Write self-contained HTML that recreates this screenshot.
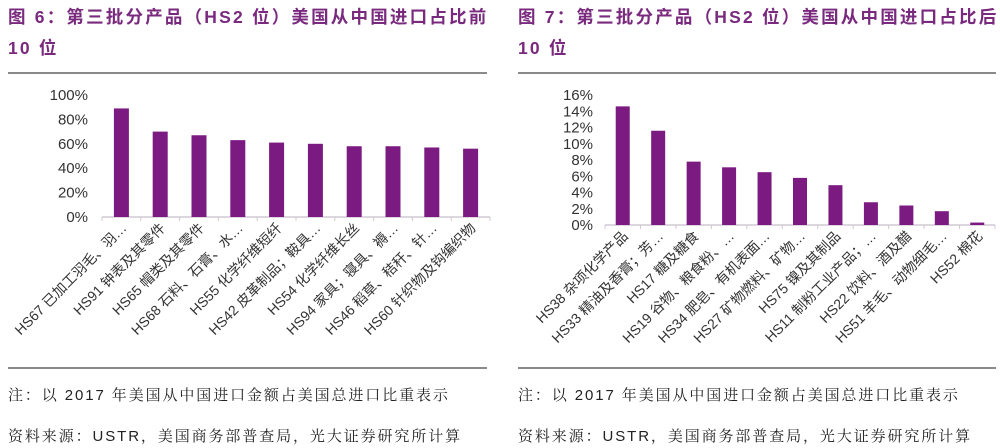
<!DOCTYPE html>
<html><head><meta charset="utf-8">
<style>
body{margin:0;width:1000px;height:448px;background:#fff;overflow:hidden;position:relative;font-family:"Liberation Sans","Noto Serif CJK SC",serif;}
.t{position:absolute;color:#7a2a7e;font-weight:bold;font-size:17.5px;letter-spacing:2.2px;line-height:31px;font-family:"Liberation Sans","Noto Sans CJK SC",sans-serif;}
.hr{position:absolute;height:2px;background:#8a8a8a;}
.n{position:absolute;font-size:15px;letter-spacing:1.9px;color:#222;white-space:nowrap;font-family:"Liberation Sans","Noto Serif CJK SC",serif;}
svg{position:absolute;left:0;top:0}
</style></head><body>
<div class="t" style="left:8px;top:2px;width:495px">图 6：第三批分产品（HS2 位）美国从中国进口占比前<br>10 位</div>
<div class="t" style="left:518px;top:2px;width:482px">图 7：第三批分产品（HS2 位）美国从中国进口占比后<br>10 位</div>
<div class="hr" style="left:8px;top:72px;width:479px"></div>
<div class="hr" style="left:518px;top:72px;width:478px"></div>
<div class="hr" style="left:8px;top:367px;width:479px"></div>
<div class="hr" style="left:518px;top:367px;width:478px"></div>
<div class="n" style="left:8px;top:384px">注：以 2017 年美国从中国进口金额占美国总进口比重表示</div>
<div class="n" style="left:8px;top:425px">资料来源：USTR，美国商务部普查局，光大证券研究所计算</div>
<div class="n" style="left:518px;top:384px">注：以 2017 年美国从中国进口金额占美国总进口比重表示</div>
<div class="n" style="left:518px;top:425px">资料来源：USTR，美国商务部普查局，光大证券研究所计算</div>
<svg id="s" width="1000" height="448"></svg>
<script>
const leftCats=["HS67 已加工羽毛、羽…","HS91 钟表及其零件","HS65 帽类及其零件","HS68 石料、石膏、水…","HS55 化学纤维短纤","HS42 皮革制品；鞍具…","HS54 化学纤维长丝","HS94 家具；寝具、褥…","HS46 稻草、秸秆、针…","HS60 针织物及钩编织物"];
const leftVals=[89,70,67,63,61,60,58,58,57,56];
const leftTicks=[0,20,40,60,80,100];
const rightCats=["HS38 杂项化学产品","HS33 精油及香膏；芳…","HS17 糖及糖食","HS19 谷物、粮食粉、…","HS34 肥皂、有机表面…","HS27 矿物燃料、矿物…","HS75 镍及其制品","HS11 制粉工业产品；…","HS22 饮料、酒及醋","HS51 羊毛、动物细毛…","HS52 棉花"];
const rightVals=[14.6,11.6,7.8,7.1,6.5,5.8,4.9,2.8,2.4,1.7,0.3];
const rightTicks=[0,2,4,6,8,10,12,14,16];
const NS="http://www.w3.org/2000/svg";
const svg=document.getElementById('s');
function mk(tag,attrs){const e=document.createElementNS(NS,tag);for(const k in attrs)e.setAttribute(k,attrs[k]);svg.appendChild(e);return e;}
function chart(p,cats,vals,ticks){
  const yMax=ticks[ticks.length-1];
  const y=v=>p.y0-(v/yMax)*(p.y0-p.y1);
  const step=(p.x1-p.x0)/cats.length;
  const x=i=>p.x0+step*(i+0.5);
  ticks.forEach(t=>{
    const tx=mk('text',{x:p.x0-p.lo,y:y(t)+5,'text-anchor':'end','font-size':'15','fill':'#333','font-family':'Liberation Sans, sans-serif'});
    tx.textContent=t+'%';
    
    
  });
  const ax=mk('line',{x1:p.x0,x2:p.x1,y1:p.y0,y2:p.y0,stroke:'#d0c8d4','stroke-width':'1.5'});
  
  
  for(let i=0;i<=cats.length;i++){
    const tk=mk('line',{x1:p.x0+step*i,x2:p.x0+step*i,y1:p.y0,y2:p.y0+4,stroke:'#d0c8d4','stroke-width':'1'});
    
    
  }
  cats.forEach((c,i)=>{
    const b=mk('rect',{x:x(i)-p.bw/2,y:y(vals[i]),width:p.bw,height:p.y0-y(vals[i]),fill:'#7b1a80'});
    
    
    const lx=x(i)+6, ly=p.y0+12;
    const l=mk('text',{x:lx,y:ly,'text-anchor':'end','font-size':'14','fill':'#333','font-family':'Liberation Sans, Noto Sans CJK SC, sans-serif',transform:'rotate(-45 '+lx+' '+ly+')'});
    l.textContent=c;
    
    
  });
}
chart({id:'left',x0:102,x1:490,y0:217,y1:95,bw:15,lo:14},leftCats,leftVals,leftTicks);
chart({id:'right',x0:605,x1:995,y0:225,y1:95,bw:14,lo:12},rightCats,rightVals,rightTicks);
</script>
</body></html>
